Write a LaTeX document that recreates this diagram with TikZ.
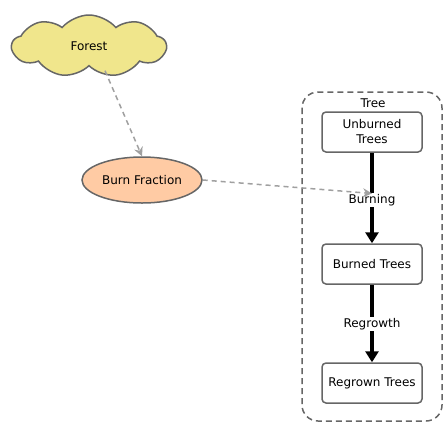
\documentclass[tikz,border=0pt]{standalone}
\usepackage{fontspec}
\setmainfont{DejaVu Sans}
\usetikzlibrary{arrows.meta}
\usetikzlibrary{shapes.geometric,shapes.symbols}
\definecolor{khaki}{HTML}{F0E68C}
\definecolor{peach}{HTML}{FFCBA4}
\definecolor{edgegray}{HTML}{666666}
\definecolor{linkgray}{HTML}{A0A0A0}
\tikzset{
  stock/.style={draw=edgegray, line width=1.5pt, rounded corners=4pt, fill=white,
    minimum width=100pt, minimum height=40pt, align=center, inner sep=2pt},
  flow/.style={-{Triangle[length=11pt,width=13pt]}, line width=4pt},
  link/.style={-{Stealth[length=9pt,width=9pt]}, draw=linkgray, line width=1.5pt,
    dash pattern=on 5pt off 4pt},
  every node/.style={font=\fontsize{12}{15}\selectfont}
}
\begin{document}
\begin{tikzpicture}[x=1pt,y=-1pt]
\useasboundingbox (0,0) rectangle (444,424);
\draw[edgegray, line width=1.5pt, dash pattern=on 6pt off 4pt, rounded corners=16pt]
  (302,92) rectangle (442,421);
\node (tree) at (373,103) {Tree};
\node[cloud, cloud puffs=9, cloud puff arc=100, aspect=2.5, draw=edgegray, fill=khaki,
  line width=1.5pt, inner sep=0pt, minimum width=154pt, minimum height=62pt] (forest) at (89,46) {Forest};
\node[ellipse, draw=edgegray, fill=peach, line width=1.5pt, inner sep=0pt,
  minimum width=120pt, minimum height=46pt] (frac) at (142,180) {Burn Fraction};
\node[stock] (unb) at (372,132) {Unburned\\Trees};
\node[stock] (bur) at (372,264) {Burned Trees};
\node[stock] (reg) at (372,383) {Regrown Trees};
\draw[flow] (unb) -- coordinate[pos=0.45] (burnmid) (bur);
\draw[flow] (bur) -- (reg);
\node[fill=white, inner sep=1pt] (burning) at (372,200) {Burning};
\node[fill=white, inner sep=1pt] (regrowth) at (372,324) {Regrowth};
\draw[link] (forest.south) ++(16,4) coordinate (fs) (fs) -- (frac.north);
\draw[link] (frac.east) -- (burnmid);
\end{tikzpicture}
\end{document}
